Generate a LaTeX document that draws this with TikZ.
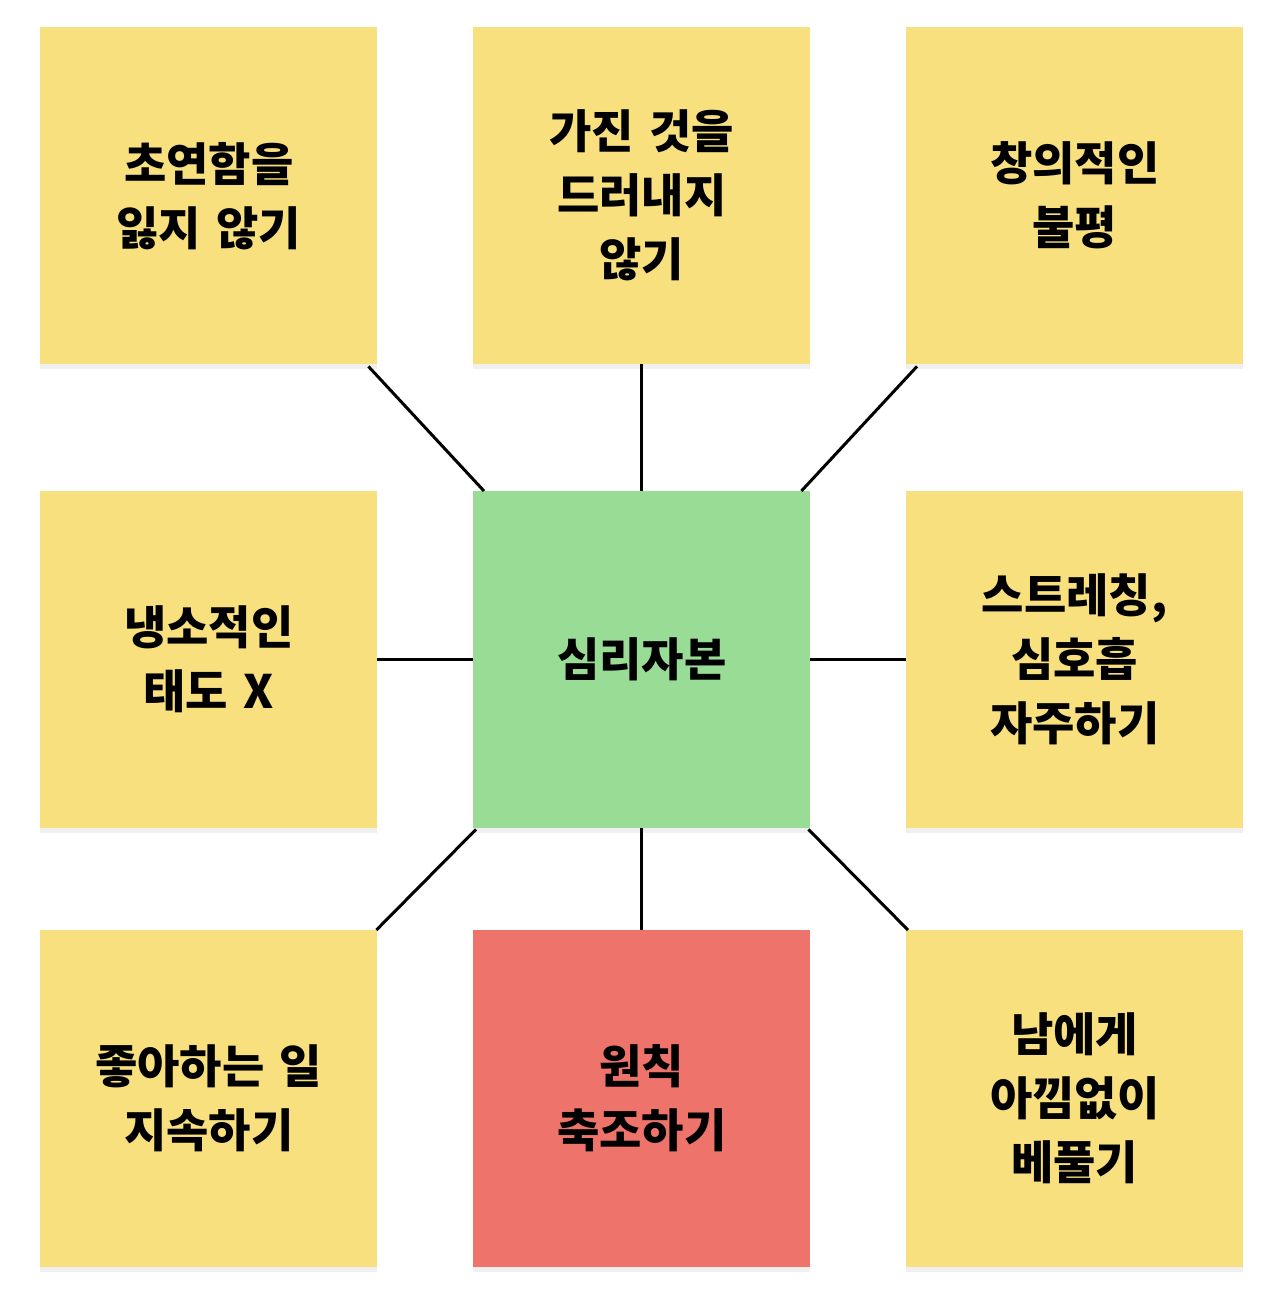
\documentclass[tikz,border=0pt]{standalone}
\usepackage{fontspec}
\newfontfamily\kr{Noto Sans CJK KR}
\usetikzlibrary{shadows}
\begin{document}
\begin{tikzpicture}[x=1pt,y=-1pt,
  note/.style={minimum width=337pt,minimum height=337pt,anchor=north west,inner sep=0pt,
    font=\kr\bfseries\fontsize{46}{64}\selectfont,align=center,text width=320pt,
    drop shadow={opacity=0.12,shadow xshift=0pt,shadow yshift=-5pt}},
  yel/.style={note,fill=yellowc},
  conn/.style={line width=3pt,black}]
\definecolor{yellowc}{HTML}{F8E07F}
\definecolor{greenc}{HTML}{98DC96}
\definecolor{redc}{HTML}{EE736B}
\useasboundingbox (0,0) rectangle (1280,1310);
\node[yel] (tl) at (40,27) {초연함을\\잃지 않기};
\node[yel] (tm) at (473,27) {가진 것을\\드러내지\\않기};
\node[yel] (tr) at (906,27) {창의적인\\불평};
\node[yel] (ml) at (40,491) {냉소적인\\태도 X};
\node[note,fill=greenc] (c) at (473,491) {심리자본};
\node[yel] (mr) at (906,491) {스트레칭,\\심호흡\\자주하기};
\node[yel] (bl) at (40,930) {좋아하는 일\\지속하기};
\node[note,fill=redc] (bm) at (473,930) {원칙\\축조하기};
\node[yel] (br) at (906,930) {남에게\\아낌없이\\베풀기};
\draw[conn] (tl.south east)++(-9,2) -- ([shift={(11,0)}]c.north west);
\draw[conn] (tm.south) -- (c.north);
\draw[conn] (tr.south west)++(11,2) -- ([shift={(-9,0)}]c.north east);
\draw[conn] (ml.east) -- (c.west);
\draw[conn] (c.east) -- (mr.west);
\draw[conn] ([shift={(3,1)}]c.south west) -- ([shift={(-1,0)}]bl.north east);
\draw[conn] (c.south) -- (bm.north);
\draw[conn] ([shift={(-2,1)}]c.south east) -- ([shift={(2,0)}]br.north west);
\end{tikzpicture}
\end{document}
